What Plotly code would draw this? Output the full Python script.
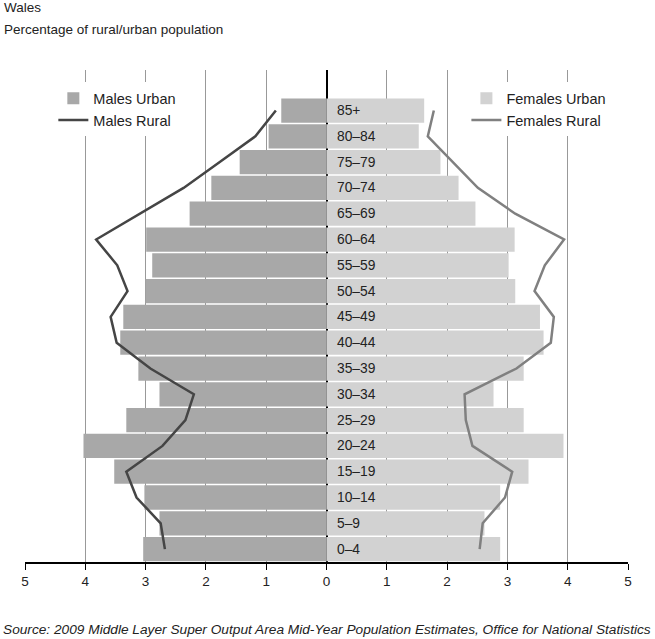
import plotly.graph_objects as go

categories = ["0–4", "5–9", "10–14", "15–19", "20–24", "25–29", "30–34", "35–39", "40–44",
              "45–49", "50–54", "55–59", "60–64", "65–69", "70–74", "75–79", "80–84", "85+"]

males_urban = [3.04, 2.77, 3.02, 3.52, 4.03, 3.32, 2.77, 3.12, 3.42,
               3.37, 3.00, 2.89, 2.99, 2.27, 1.91, 1.44, 0.96, 0.75]
males_rural = [2.68, 2.75, 3.15, 3.32, 2.72, 2.34, 2.20, 2.92, 3.48,
               3.58, 3.30, 3.47, 3.82, 3.09, 2.37, 1.77, 1.18, 0.84]
females_urban = [2.88, 2.62, 2.88, 3.35, 3.93, 3.27, 2.77, 3.27, 3.60,
                 3.54, 3.13, 3.02, 3.12, 2.47, 2.19, 1.89, 1.53, 1.62]
females_rural = [2.54, 2.59, 2.96, 3.08, 2.42, 2.31, 2.29, 3.15, 3.72,
                 3.77, 3.45, 3.62, 3.94, 3.13, 2.51, 2.10, 1.68, 1.78]

tick_vals = [-5, -4, -3, -2, -1, 0, 1, 2, 3, 4, 5]
tick_text = ["5", "4", "3", "2", "1", "0", "1", "2", "3", "4", "5"]

FONT = "Liberation Sans, Arial, sans-serif"
idx = list(range(len(categories)))

fig = go.Figure()
fig.add_trace(go.Bar(
    y=idx, x=[-v for v in males_urban], orientation="h", name="Males Urban",
    marker=dict(color="#a8a8a8", line=dict(width=0)), legend="legend"))
fig.add_trace(go.Bar(
    y=idx, x=females_urban, orientation="h", name="Females Urban",
    marker=dict(color="#d2d2d2", line=dict(width=0)), legend="legend2"))
fig.add_trace(go.Scatter(
    y=idx, x=[-v for v in males_rural], mode="lines", name="Males Rural",
    line=dict(color="#454545", width=2.5), legend="legend"))
fig.add_trace(go.Scatter(
    y=idx, x=females_rural, mode="lines", name="Females Rural",
    line=dict(color="#808080", width=2.5), legend="legend2"))

for i, c in enumerate(categories):
    fig.add_annotation(x=0, y=i, text=c, showarrow=False, xanchor="left",
                       xshift=8, font=dict(size=13.8, color="#222222", family=FONT))

fig.add_annotation(xref="paper", yref="paper", x=-23/603, y=1 + 72/492,
                   xanchor="left", yanchor="top", text="Wales", showarrow=False,
                   font=dict(size=13.5, color="#222222", family=FONT))
fig.add_annotation(xref="paper", yref="paper", x=-23/603, y=1 + 50/492,
                   xanchor="left", yanchor="top", text="Percentage of rural/urban population",
                   showarrow=False, font=dict(size=13.5, color="#222222", family=FONT))
fig.add_annotation(xref="paper", yref="paper", x=-24/603, y=-58/492,
                   xanchor="left", yanchor="top",
                   text="<i>Source: 2009 Middle Layer Super Output Area Mid-Year Population Estimates, Office for National Statistics</i>",
                   showarrow=False, font=dict(size=13.7, color="#222222", family=FONT))

fig.update_layout(
    width=655, height=639,
    margin=dict(l=25, r=27, t=70, b=77),
    paper_bgcolor="white", plot_bgcolor="white",
    barmode="relative", bargap=0.06,
    font=dict(family=FONT, size=13, color="#222222"),
    showlegend=True,
    legend=dict(x=0.047, y=0.975, xanchor="left", yanchor="top", bgcolor="white",
                font=dict(size=14.5, family=FONT, color="#222222"), tracegroupgap=0,
                itemwidth=30),
    legend2=dict(x=0.732, y=0.975, xanchor="left", yanchor="top", bgcolor="white",
                 font=dict(size=14.5, family=FONT, color="#222222"), tracegroupgap=0,
                 itemwidth=30),
    xaxis=dict(range=[-5, 5], tickvals=tick_vals, ticktext=tick_text,
               showgrid=True, gridcolor="#999999", gridwidth=1,
               zeroline=True, zerolinecolor="#000000", zerolinewidth=1.5,
               showline=True, linecolor="#000000", linewidth=1.5,
               ticks="outside", ticklen=6, tickcolor="#000000",
               tickfont=dict(size=13.5, family=FONT, color="#222222"),
               fixedrange=True),
    yaxis=dict(range=[-0.5, 18.57], showticklabels=False, showgrid=False,
               zeroline=False, showline=False, fixedrange=True),
)

fig.write_html("out.html", config={"displayModeBar": False},
               post_script="document.body.style.margin='0';")
